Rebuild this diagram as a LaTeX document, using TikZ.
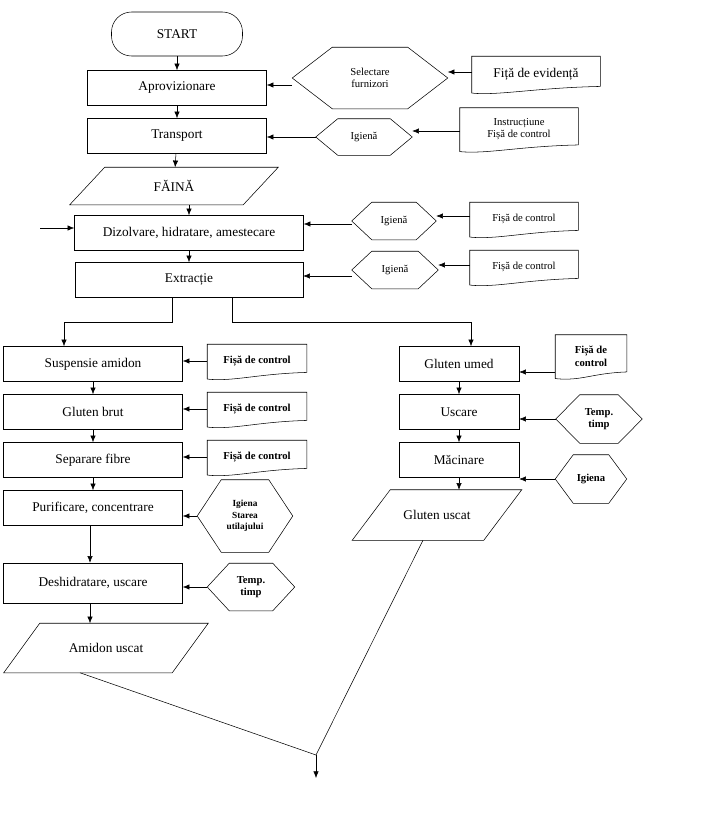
\documentclass[tikz,border=0pt]{standalone}
\usepackage{fontspec}
\setmainfont{Liberation Serif}
\usetikzlibrary{arrows.meta,calc}
\def\u{*0.75pt}
\newcommand\hexp[2]{\draw (#1.west) -- ([xshift=#2\u]#1.north west) -- ([xshift=-#2\u]#1.north east) -- (#1.east) -- ([xshift=-#2\u]#1.south east) -- ([xshift=#2\u]#1.south west) -- cycle;}
\newcommand\docp[1]{\draw ([yshift=-1pt]#1.south west) -- (#1.north west) -- (#1.north east) -- ([yshift=4pt]#1.south east) .. controls ($(#1.south)+(0pt,3pt)$) and ($(#1.south west)+(20pt,-3pt)$) .. ([yshift=-1pt]#1.south west);}
\newcommand\parp[2]{\draw ([xshift=#2\u]#1.north west) -- (#1.north east) -- ([xshift=-#2\u]#1.south east) -- (#1.south west) -- cycle;}
\begin{document}
\begin{tikzpicture}[x=0.75pt,y=-0.75pt,
 every node/.style={inner sep=0pt,align=center,font=\fontsize{10}{12}\selectfont},
 box/.style={draw,minimum width=#1\u,minimum height=35\u},
 sh/.style 2 args={minimum width=#1\u,minimum height=#2\u},
 sm/.style={font=\fontsize{8}{9.5}\selectfont},
 bsm/.style={font=\fontsize{8}{9.5}\selectfont\bfseries},
 arr/.style={-{Latex[length=5pt,width=4pt]}}]
\useasboundingbox (0,0) rectangle (700,828);
\node[draw,rounded corners=15pt,sh={131}{44}] (start) at (177,34) {START};
\node[box=179] (aprov) at (177,88) {Aprovizionare};
\node[sh={155}{61},sm] (sel) at (370,78) {Selectare\\furnizori}; \hexp{sel}{40}
\node[sh={128}{35}] (fe) at (536,74) {Fiță de evidență}; \docp{fe}
\node[box=179] (trans) at (177,136) {Transport};
\node[sh={96}{36},sm] (ig1) at (364,137) {Igienă}; \hexp{ig1}{22}
\node[sh={118}{42},sm] (fc1) at (519,129) {Instrucțiune\\Fișă de control}; \docp{fc1}
\node[sh={208}{37}] (faina) at (174,186) {FĂINĂ}; \parp{faina}{35}
\node[box=229] (diz) at (189,233) {Dizolvare, hidratare, amestecare};
\node[sh={84}{37},sm] (ig2) at (394,221) {Igienă}; \hexp{ig2}{20}
\node[sh={108}{33},sm] (fc2) at (524,219) {Fișă de control}; \docp{fc2}
\coordinate (in) at (40,228);
\node[box=228] (ext) at (189,280) {Extracție};
\node[sh={86}{37},sm] (ig3) at (395,270) {Igienă}; \hexp{ig3}{20}
\node[sh={108}{33},sm] (fc3) at (524,267) {Fișă de control}; \docp{fc3}
% left column
\node[box=179] (susp) at (93,364) {Suspensie amidon};
\node[box=179] (glb) at (93,412) {Gluten brut};
\node[box=179] (sep) at (93,460) {Separare fibre};
\node[box=179] (pur) at (93,508) {Purificare, concentrare};
\node[box=179,minimum height=40\u] (desh) at (93,583) {Deshidratare, uscare};
\node[sh={204}{49}] (amu) at (106,648) {Amidon uscat}; \parp{amu}{36}
\node[sh={99}{33},bsm] (fl1) at (257,361) {Fișă de control}; \docp{fl1}
\node[sh={99}{33},bsm] (fl2) at (257,409) {Fișă de control}; \docp{fl2}
\node[sh={99}{33},bsm] (fl3) at (257,457) {Fișă de control}; \docp{fl3}
\node[sh={95}{72},font=\fontsize{7}{8.5}\selectfont\bfseries] (igs) at (245,516) {Igiena\\Starea\\utilajului}; \hexp{igs}{24}
\node[sh={87}{47},bsm] (tt1) at (251,587) {Temp.\\timp}; \hexp{tt1}{22}
% right column
\node[box=120] (gu) at (459,364) {Gluten umed};
\node[box=120] (usc) at (459,412) {Uscare};
\node[box=120] (mac) at (459,460) {Măcinare};
\node[sh={169}{50}] (gus) at (437,515) {Gluten uscat}; \parp{gus}{38}
\node[sh={71}{42},bsm] (fr) at (591,356) {Fișă de\\control}; \docp{fr}
\node[sh={86}{48},bsm] (tt2) at (599,419) {Temp.\\timp}; \hexp{tt2}{24}
\node[sh={71}{48},bsm] (igr) at (591,479) {Igiena}; \hexp{igr}{18}
\coordinate (m) at (316,755);
\coordinate (out) at (316,778);
% connectors
\draw[arr] (start) -- (aprov);
\draw[arr] (aprov) -- (trans);
\draw[arr] (trans) -- (faina);
\draw[arr] (faina.south -| diz) -- (diz);
\draw[arr] (diz) -- (ext);
\draw[arr] (fe.west |- 0,72) -- (sel.east |- 0,72);
\draw[arr] (sel.west |- 0,85) -- (aprov.east |- 0,85);
\draw[arr] (fc1.west |- 0,131) -- (ig1.east |- 0,131);
\draw[arr] (ig1.west) -- (trans.east |- ig1.west);
\draw[arr] (fc2.west |- 0,216) -- (ig2.east |- 0,216);
\draw[arr] (ig2.west |- 0,224) -- (diz.east |- 0,224);
\draw[arr] (in) -- (diz.west |- in);
\draw[arr] (fc3.west |- 0,265) -- (ig3.east |- 0,265);
\draw[arr] (ig3.west |- 0,276) -- (ext.east |- 0,276);
\draw[arr] (ext.south -| 172,0) -- (172,322) -- (64,322) -- (susp.north -| 64,0);
\draw[arr] (ext.south -| 232,0) -- (232,322) -- (471,322) -- (gu.north -| 471,0);
\draw[arr] (susp) -- (glb);
\draw[arr] (glb) -- (sep);
\draw[arr] (sep) -- (pur);
\draw[arr] (pur.south -| 90,0) -- (desh.north -| 90,0);
\draw[arr] (desh.south -| 90,0) -- (amu.north -| 90,0);
\draw[arr] (fl1.west) -- (susp.east |- fl1.west);
\draw[arr] (fl2.west) -- (glb.east |- fl2.west);
\draw[arr] (fl3.west) -- (sep.east |- fl3.west);
\draw[arr] (igs.west) -- (pur.east |- igs.west);
\draw[arr] (tt1.west) -- (desh.east |- tt1.west);
\draw[arr] (gu) -- (usc);
\draw[arr] (usc) -- (mac);
\draw[arr] (mac) -- (mac |- gus.north);
\draw[arr] (fr.west |- 0,372) -- (gu.east |- 0,372);
\draw[arr] (tt2.west) -- (usc.east |- tt2.west);
\draw[arr] (igr.west) -- (mac.east |- igr.west);
\draw (amu.south -| 80,0) -- (m);
\draw (gus.south -| 423,0) -- (m);
\draw[arr] (m) -- (out);
\end{tikzpicture}
\end{document}
